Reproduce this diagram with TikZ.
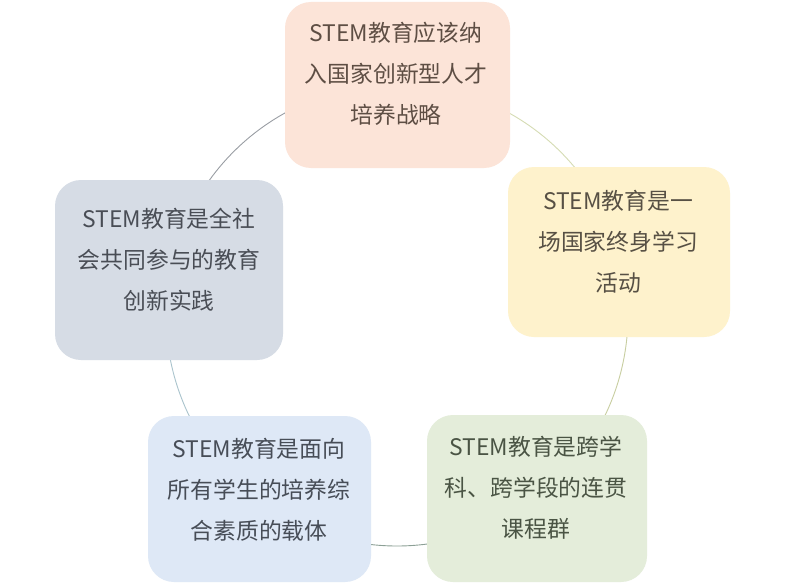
\documentclass[tikz,border=0pt]{standalone}
\usepackage{fontspec}
\setmainfont{Noto Sans CJK SC}
\definecolor{ringA}{HTML}{9A9EA4}
\definecolor{ringB}{HTML}{D6DCB4}
\definecolor{ringC}{HTML}{C8CEA0}
\definecolor{ringD}{HTML}{8CA096}
\definecolor{ringE}{HTML}{AAC4CD}
\definecolor{fillTop}{HTML}{FCE4D8}
\definecolor{fillRU}{HTML}{FEF2CC}
\definecolor{fillRL}{HTML}{E4EDDA}
\definecolor{fillLL}{HTML}{DEE8F6}
\definecolor{fillLU}{HTML}{D6DCE5}
\definecolor{txTop}{HTML}{5E4E44}
\definecolor{txRU}{HTML}{575044}
\definecolor{txRL}{HTML}{4A5444}
\definecolor{txLL}{HTML}{474D57}
\definecolor{txLU}{HTML}{494D55}
\begin{document}
\begin{tikzpicture}[x=1pt,y=1pt,
  card/.style={rounded corners=26pt, draw=none, inner sep=0pt},
  txt/.style={align=center, font=\fontsize{22.8}{41}\selectfont, inner sep=0pt, text=#1},
  ring/.style={line width=0.9pt, draw=#1}]
\useasboundingbox (0,0) rectangle (797,-583);
\fill[white] (0,0) rectangle (797,-583);
\coordinate (c) at (397,-315);
% ring segments
\draw[ring=ringA] (c) ++(162:231pt) arc (162:90:231pt);
\draw[ring=ringB] (c) ++(90:231pt) arc (90:18:231pt);
\draw[ring=ringC] (c) ++(18:231pt) arc (18:-54:231pt);
\draw[ring=ringD] (c) ++(-54:231pt) arc (-54:-126:231pt);
\draw[ring=ringE] (c) ++(-126:231pt) arc (-126:-198:231pt);
% cards
\node[card, fill=fillTop, minimum width=225pt, minimum height=166pt] (top) at (397.5,-85) {};
\node[card, fill=fillRU, minimum width=222pt, minimum height=170pt] (ru) at (619,-252) {};
\node[card, fill=fillRL, minimum width=220pt, minimum height=167pt] (rl) at (537,-498.5) {};
\node[card, fill=fillLL, minimum width=223pt, minimum height=166pt] (ll) at (259.5,-499) {};
\node[card, fill=fillLU, minimum width=228pt, minimum height=180pt] (lu) at (169,-270) {};
% texts
\node[txt=txTop] (ttop) at (396,-74) {STEM教育应该纳\\入国家创新型人才\\培养战略};
\node[txt=txRU] (tru) at (618,-242) {STEM教育是一\\场国家终身学习\\活动};
\node[txt=txRL] (trl) at (536,-488) {STEM教育是跨学\\科、跨学段的连贯\\课程群};
\node[txt=txLL] (tll) at (259,-490) {STEM教育是面向\\所有学生的培养综\\合素质的载体};
\node[txt=txLU] (tlu) at (169,-260) {STEM教育是全社\\会共同参与的教育\\创新实践};
\end{tikzpicture}
\end{document}
